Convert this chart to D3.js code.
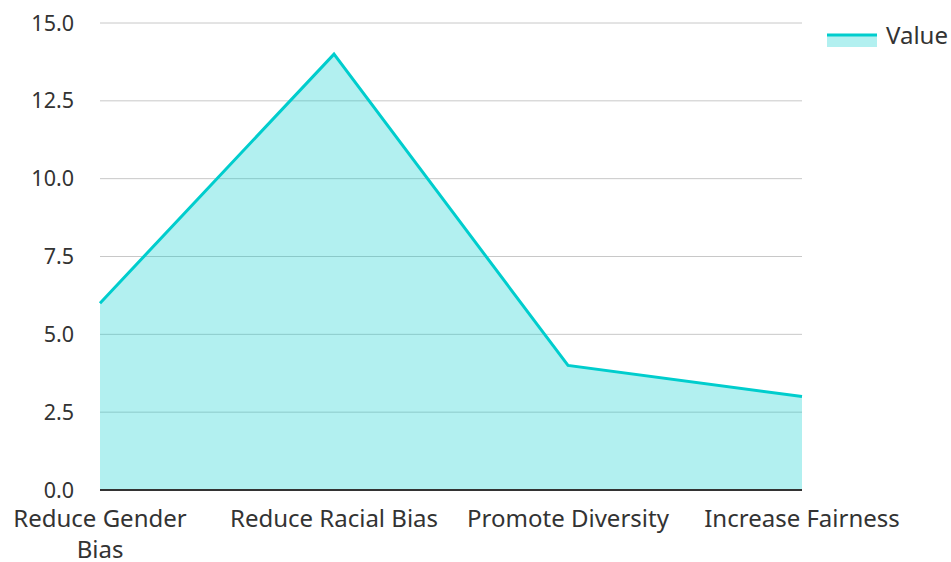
<!DOCTYPE html>
<html>
<head>
<meta charset="utf-8">
<script src="https://cdn.jsdelivr.net/npm/d3@7"></script>
<style>
  body { margin: 0; background: #fff; }
  svg text { font-family: "Noto Sans", "Open Sans", sans-serif; fill: #333; }
</style>
</head>
<body>
<svg id="chart" width="951" height="562"></svg>
<script>
const categories = ['Reduce Gender Bias', 'Reduce Racial Bias', 'Promote Diversity', 'Increase Fairness']
const values = [6, 14, 4, 3]
const yTicks = [0, 2.5, 5, 7.5, 10, 12.5, 15]
const seriesName = 'Value'

const margin = { top: 23, right: 149, bottom: 72, left: 100 }
const width = 951, height = 562
const innerW = width - margin.left - margin.right
const innerH = height - margin.top - margin.bottom

const lineColor = '#00cdcd'
const fillColor = 'rgba(0, 205, 205, 0.3)'

const svg = d3.select('#chart')
const g = svg.append('g').attr('transform', `translate(${margin.left},${margin.top})`)

const x = d3.scalePoint().domain(categories).range([0, innerW])
const y = d3.scaleLinear().domain([0, 15]).range([innerH, 0])

// grid
g.selectAll('.grid')
  .data(yTicks.filter(d => d > 0))
  .enter().append('line')
    .attr('x1', 0).attr('x2', innerW)
    .attr('y1', d => y(d)).attr('y2', d => y(d))
    .attr('stroke', '#c8c8c8').attr('stroke-width', 1)

// y tick labels
g.selectAll('.ytick')
  .data(yTicks)
  .enter().append('text')
    .attr('x', -26).attr('y', d => y(d))
    .attr('dy', '0.35em')
    .attr('text-anchor', 'end')
    .attr('font-size', 21.5)
    .text(d => d.toFixed(1))

const data = categories.map((c, i) => ({ c, v: values[i] }))

const area = d3.area().x(d => x(d.c)).y0(innerH).y1(d => y(d.v))
const line = d3.line().x(d => x(d.c)).y(d => y(d.v))

g.append('path').datum(data).attr('d', area).attr('fill', fillColor)
g.append('path').datum(data).attr('d', line)
  .attr('fill', 'none').attr('stroke', lineColor).attr('stroke-width', 3)

// baseline axis
g.append('line')
  .attr('x1', 0).attr('x2', innerW)
  .attr('y1', innerH).attr('y2', innerH)
  .attr('stroke', '#333').attr('stroke-width', 2)

// x labels, wrap when wider than the slot
g.selectAll('.xlabel')
  .data(categories)
  .enter().append('text')
    .attr('text-anchor', 'middle')
    .attr('font-size', 24)
    .attr('transform', d => `translate(${x(d)},${innerH + 37})`)
    .each(function(d) {
      const t = d3.select(this)
      const words = d.split(' ')
      let lines = [], cur = ''
      const probe = t.append('tspan')
      words.forEach(w => {
        const test = cur ? cur + ' ' + w : w
        probe.text(test)
        if (probe.node().getComputedTextLength() > 222 && cur) {
          lines.push(cur); cur = w
        } else cur = test
      })
      lines.push(cur)
      probe.remove()
      lines.forEach((l, i) => {
        t.append('tspan').attr('x', 0).attr('dy', i ? 31 : 0).text(l)
      })
    })

// legend
const lg = svg.append('g').attr('transform', 'translate(827,35)')
lg.append('rect').attr('x', 0).attr('y', 0).attr('width', 50).attr('height', 12).attr('fill', fillColor)
lg.append('line').attr('x1', 0).attr('x2', 50).attr('y1', 0).attr('y2', 0)
  .attr('stroke', lineColor).attr('stroke-width', 3)
lg.append('text').attr('x', 59).attr('y', 1).attr('dy', '0.35em')
  .attr('font-size', 24).text(seriesName)
</script>
</body>
</html>
